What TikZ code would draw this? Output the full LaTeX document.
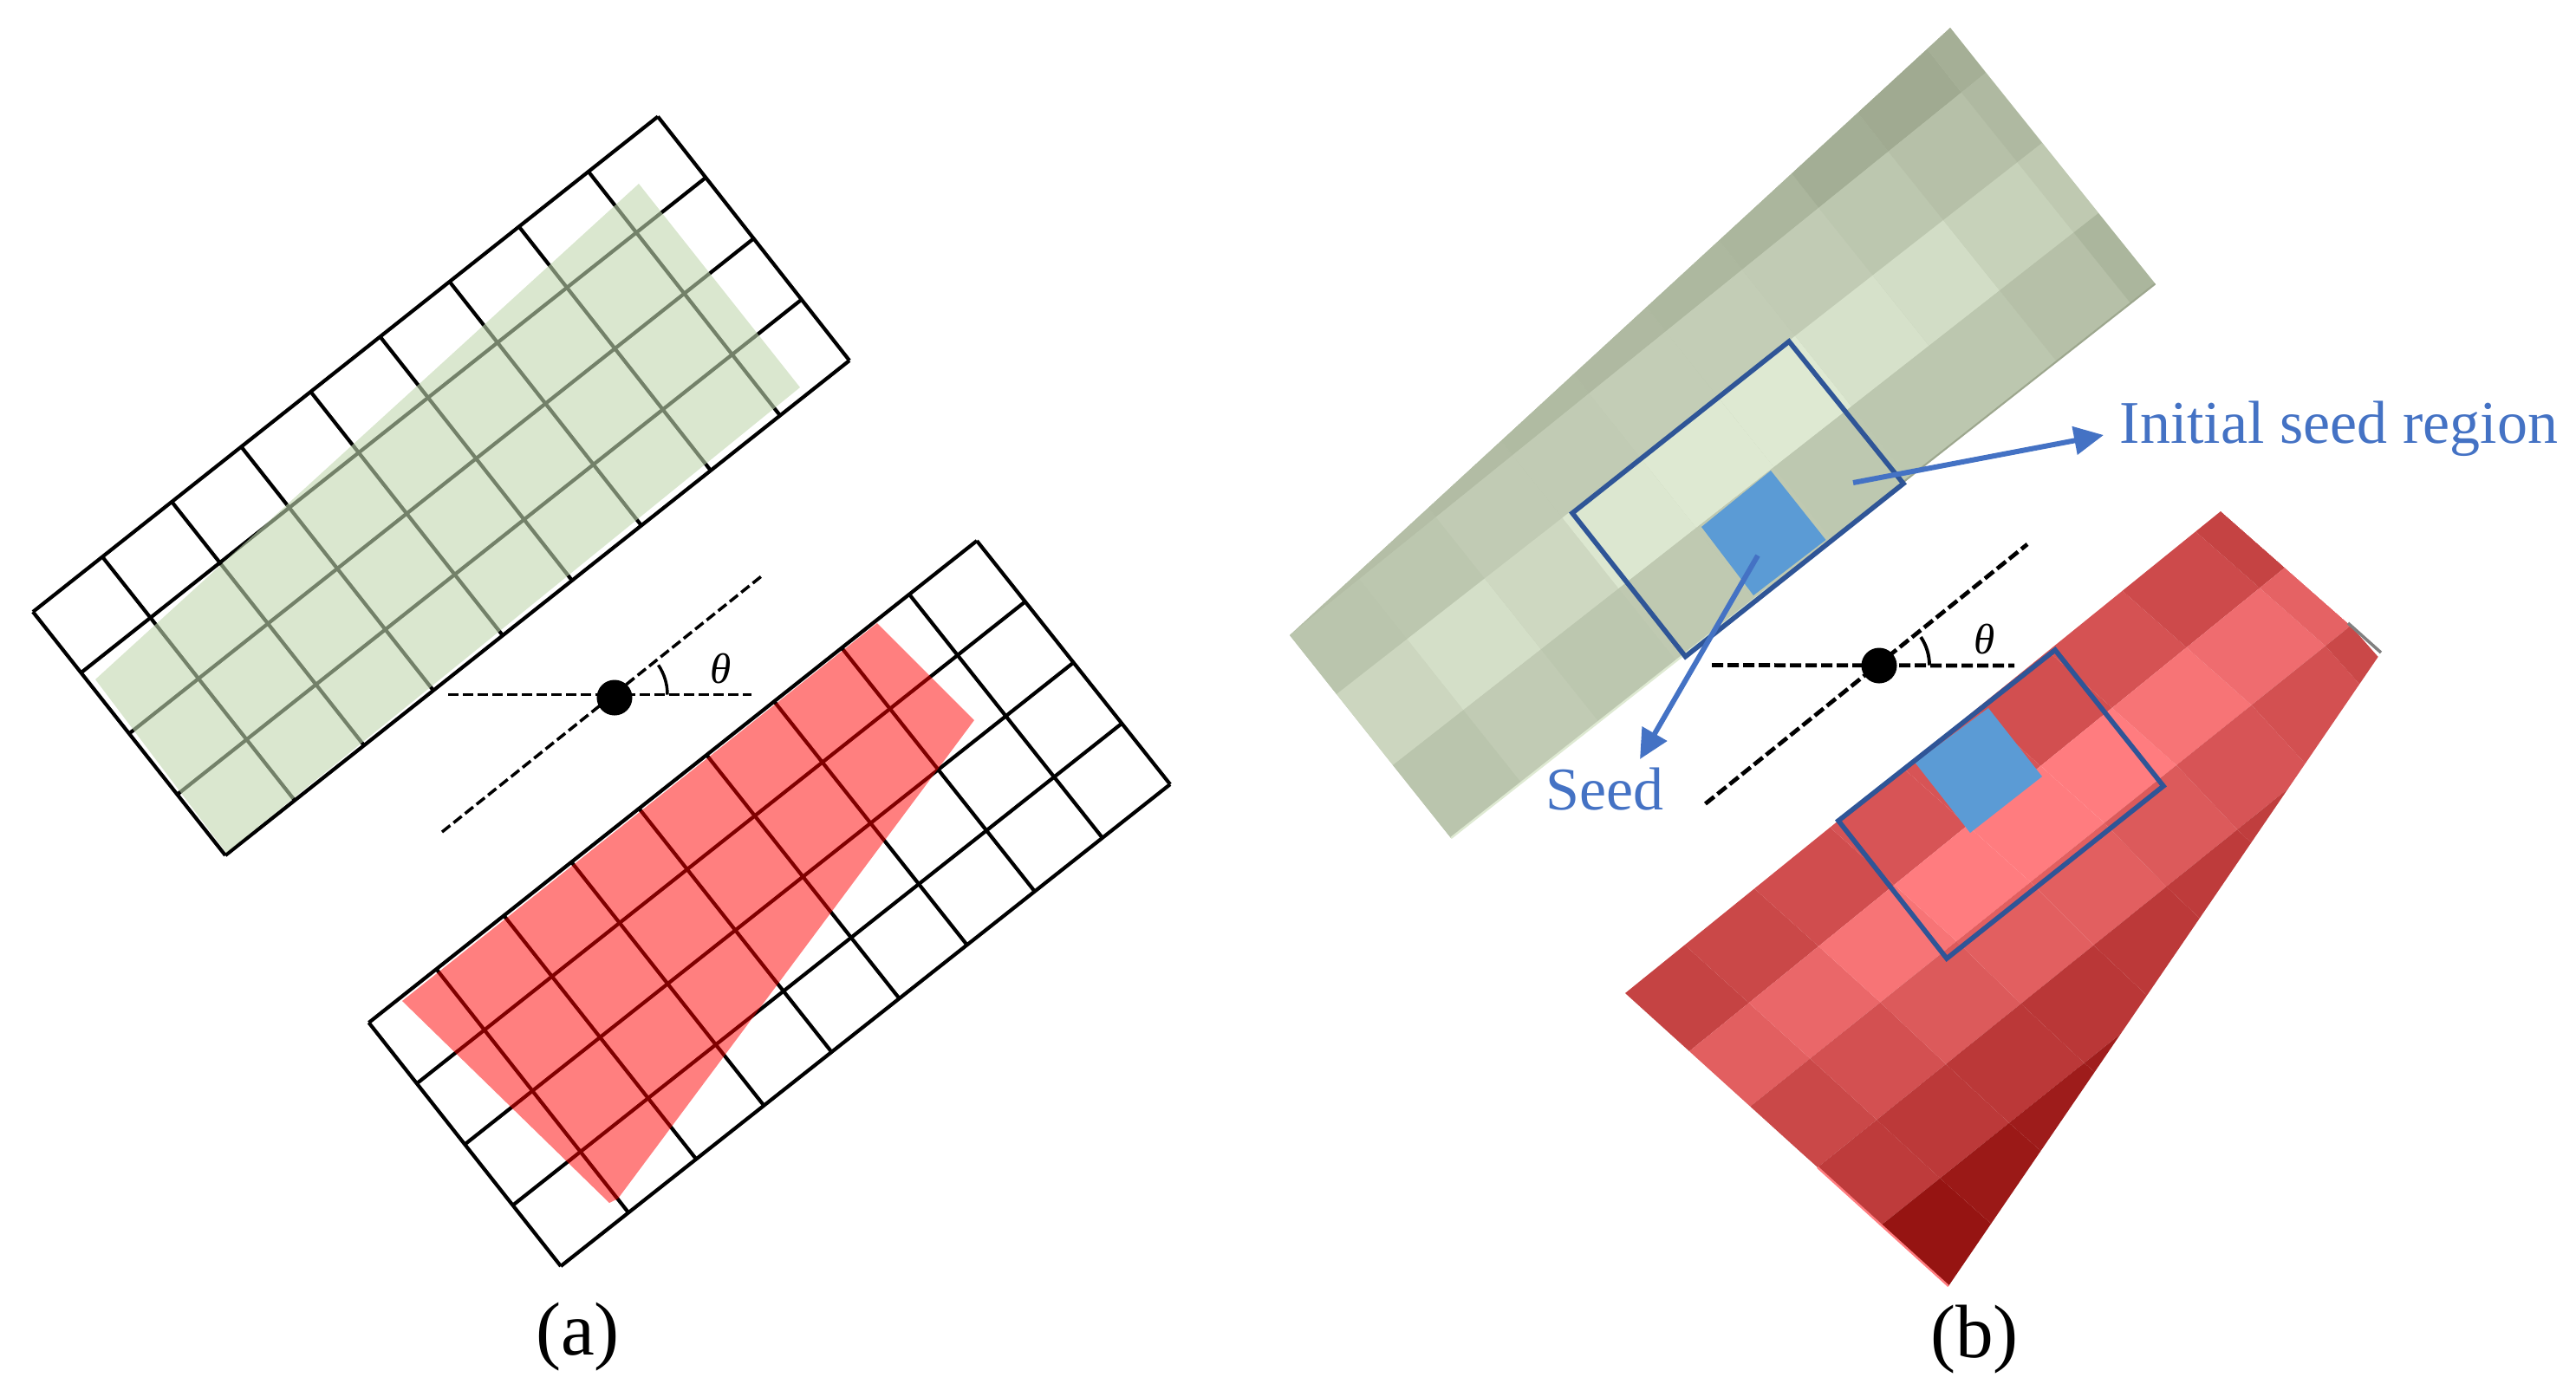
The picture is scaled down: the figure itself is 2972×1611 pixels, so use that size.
\documentclass[tikz,border=0pt]{standalone}
\usepackage{fontspec}
\setmainfont{Liberation Serif}
\usetikzlibrary{arrows.meta,calc}
\definecolor{gridveil}{rgb}{0.758,0.843,0.687}
\definecolor{glight}{HTML}{DEE9D2}
\definecolor{gdark}{HTML}{9DA78E}
\definecolor{rlight}{HTML}{FF7C7F}
\definecolor{rdark}{HTML}{961412}
\definecolor{framecol}{HTML}{2F5597}
\definecolor{seedcol}{HTML}{5B9BD5}
\definecolor{labelcol}{HTML}{4472C4}
\tikzset{
    gridline/.style={line width=1.2pt,black},
    axisa/.style={line width=1pt,dash pattern=on 0.12cm off 0.05cm},
    axisb/.style={line width=1.35pt,dash pattern=on 0.13cm off 0.05cm},
    pivot/.style={circle,fill=black,inner sep=0pt,minimum size=0.41cm},
    seedframe/.style={line width=1.6pt,framecol,line join=miter},
    seedcell/.style={fill=seedcol},
    callout/.style={line width=1.7pt,labelcol,-{Triangle[length=0.34cm,width=0.32cm]}},
    bluetext/.style={text=labelcol,inner sep=0pt,font=\fontsize{19.9}{24}\selectfont},
    caption/.style={inner sep=0pt,anchor=base,font=\fontsize{24.8}{30}\selectfont},
    anglelabel/.style={inner sep=0pt,font=\fontsize{14}{16}\selectfont\itshape}
}
% one row of shaded cells between an upper and a lower line
\newcommand{\meshrow}[7]{%
    \foreach \val [count=\k from 0] in {#6}{
        \pgfmathsetmacro{\cutA}{{#1}[\k]}
        \pgfmathsetmacro{\cutB}{{#1}[\k+1]}
        \fill[#7dark!\val!#7light] ($(#2)!\cutA!(#3)$) -- ($(#2)!\cutB!(#3)$) -- ($(#4)!\cutB!(#5)$) -- ($(#4)!\cutA!(#5)$) -- cycle;
    }%
}
\newcommand{\greencuts}{0,0.1,0.21,0.32,0.43,0.54,0.65,0.76,0.86,0.965,1}
\newcommand{\redcuts}{0,0.1,0.217,0.344,0.467,0.59,0.71,0.835,0.958,1}

\begin{document}
\begin{tikzpicture}[x=0.01cm,y=-0.01cm]
    \useasboundingbox (0,0) rectangle (2972,1611);

    % (a) upper grid
    \coordinate (aTL) at (38,706);
    \coordinate (aTR) at (759,134.5);
    \coordinate (aBR) at (980,416);
    \coordinate (aBL) at (260,987);
    \foreach \i in {0,...,9}
        \draw[gridline] ($(aTL)!\i/9!(aTR)$) -- ($(aBL)!\i/9!(aBR)$);
    \foreach \i in {0,...,4}
        \draw[gridline] ($(aTL)!\i/4!(aBL)$) -- ($(aTR)!\i/4!(aBR)$);
    \fill[gridveil,fill opacity=0.6] (110,784) -- (737,212) -- (923,447) -- (261,984) -- cycle;

    % (a) lower grid
    \coordinate (cTL) at (425.5,1180);
    \coordinate (cTR) at (1127,624);
    \coordinate (cBR) at (1350,905);
    \coordinate (cBL) at (647,1461);
    \foreach \i in {0,...,9}
        \draw[gridline] ($(cTL)!\i/9!(cTR)$) -- ($(cBL)!\i/9!(cBR)$);
    \foreach \i in {0,...,4}
        \draw[gridline] ($(cTL)!\i/4!(cBL)$) -- ($(cTR)!\i/4!(cBR)$);
    \fill[red,fill opacity=0.5] (464,1155) -- (1012,719) -- (1124,831) -- (713,1383) -- (703,1388) -- cycle;

    % (a) axis
    \coordinate (aLeft) at (517,801.5);
    \coordinate (aRight) at (867,801.5);
    \coordinate (aLow) at (510,960);
    \coordinate (aHigh) at (881.5,662.5);
    \draw[axisa] (aLeft) -- (aRight);
    \draw[axisa] (aLow) -- (aHigh);
    \node[pivot] (pivotA) at (709,805) {};
    \draw[line width=1pt] (770,801.5) arc[start angle=0,end angle=-34,radius=61];
    \node[anglelabel] (thetaA) at (832,772) {θ};
    \node[caption] (capA) at (666.5,1563) {(a)};

    % (b) upper plate
    \coordinate (g0L) at (1488,733);
    \coordinate (g0R) at (2250,32);
    \coordinate (g1R) at (2291,84);
    \coordinate (g2L) at (1542,801);
    \coordinate (g2R) at (2356,165);
    \coordinate (g3L) at (1607,883);
    \coordinate (g3R) at (2421,246);
    \coordinate (g4L) at (1674,967);
    \coordinate (g4R) at (2486.5,327.5);
    \fill[gdark!50!glight] (g0L) -- (g0R) -- (g4R) -- (g4L) -- cycle;
    \meshrow{\greencuts}{g0L}{g0R}{g0L}{g1R}{65,65,68,70,72,75,78,90,95,88}{g}
    \meshrow{\greencuts}{g0L}{g1R}{g2L}{g2R}{55,52,45,45,42,42,45,52,62,72}{g}
    \meshrow{\greencuts}{g2L}{g2R}{g3L}{g3R}{28,15,25,3,0,0,12,18,35,48}{g}
    \meshrow{\greencuts}{g3L}{g3R}{g4L}{g4R}{55,45,52,48,48,50,52,52,62,78}{g}
    \draw[line width=0.7pt,glight] (g4L) -- ($(g4L)!0.45!(g4R)$);
    \draw[line width=0.6pt,gdark] ($(g4L)!0.6!(g4R)$) -- (g4R);

    % (b) lower plate, the rows run on past its right edge
    \coordinate (r0L) at (1875,1146);
    \coordinate (r0R) at (2562,590);
    \coordinate (r1L) at (1949,1213);
    \coordinate (r1R) at (2636,655);
    \coordinate (r2L) at (2019,1277);
    \coordinate (r2R) at (2712,722);
    \coordinate (r3L) at (2097,1347);
    \coordinate (r3R) at (2779,798);
    \coordinate (r4L) at (2170,1414);
    \coordinate (r4R) at (2852,869);
    \coordinate (r5L) at (2248,1484);
    \coordinate (r5R) at (2926,930);
    \coordinate (rEnd) at (2747,753);
    \begin{scope}
        \clip (r0L) -- (r0R) -- (rEnd) -- (r5L) -- cycle;
        \meshrow{\redcuts}{r0L}{r0R}{r1L}{r1R}{55,50,45,38,38,43,40,48,55}{r}
        \meshrow{\redcuts}{r1L}{r1R}{r2L}{r2R}{28,20,8,0,0,0,8,15,25}{r}
        \meshrow{\redcuts}{r2L}{r2R}{r3L}{r3R}{50,42,33,28,28,33,38,42,50}{r}
        \meshrow{\redcuts}{r3L}{r3R}{r4L}{r4R}{62,64,65,66,64,62,60,60,60}{r}
        \meshrow{\redcuts}{r4L}{r4R}{r5L}{r5R}{100,95,92,90,88,88,88,88,88}{r}
    \end{scope}
    \draw[line width=0.7pt,rlight] (r3L) -- (r5L);
    \draw[line width=1pt,gray] (2709,719) -- (rEnd);

    % (b) seed cells and regions
    \fill[seedcell] (2043,543) -- (2106.5,623) -- (2023,687) -- (1963,608) -- cycle;
    \fill[seedcell] (2294,817) -- (2356,896) -- (2273,961) -- (2209.5,880) -- cycle;
    \draw[seedframe] (2064,394) -- (2196,558) -- (1944.5,757.6) -- (1814,592) -- cycle;
    \draw[seedframe] (2371,750) -- (2496,907) -- (2246,1106) -- (2121,947) -- cycle;

    % (b) axis
    \coordinate (bLeft) at (1975,767.5);
    \coordinate (bRight) at (2324,768);
    \coordinate (bLow) at (1967.5,927.5);
    \coordinate (bHigh) at (2339,628);
    \draw[axisb] (bLeft) -- (bRight);
    \draw[axisb] (bLow) -- (bHigh);
    \node[pivot] (pivotB) at (2168,768) {};
    \draw[line width=1.1pt] (2226,767.5) arc[start angle=0,end angle=-34,radius=58];
    \node[anglelabel] (thetaB) at (2290,738) {θ};
    \node[caption] (capB) at (2278,1566) {(b)};

    % (b) labels
    \node[bluetext,anchor=base west] (regionLabel) at (2445,511.7) {Initial seed region};
    \node[bluetext,anchor=base west] (seedLabel) at (1782.5,934.6) {Seed};
    \coordinate (regionTail) at (2138,557);
    \coordinate (regionTip) at (2427,502);
    \coordinate (seedTail) at (2028,641);
    \coordinate (seedTip) at (1892,876);
    \draw[callout] (regionTail) -- (regionTip);
    \draw[callout] (seedTail) -- (seedTip);
\end{tikzpicture}
\end{document}
